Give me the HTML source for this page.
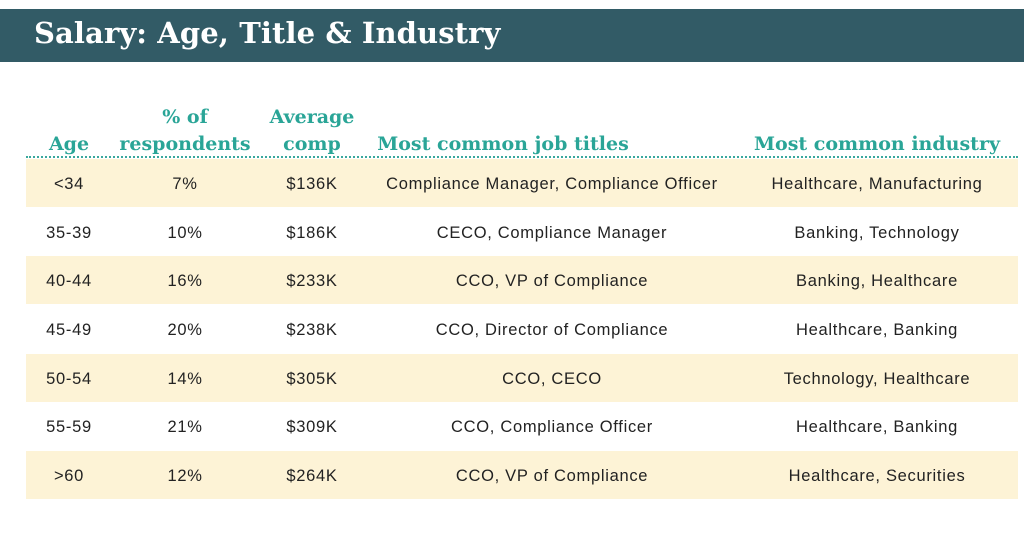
<!DOCTYPE html>
<html><head><style>
body{margin:0;width:1024px;height:536px;background:#fff;position:relative;overflow:hidden;font-family:"Liberation Sans",sans-serif}
.ban{position:absolute;left:0;top:9px;width:1024px;height:53px;background:#325b66}
.ban span{position:absolute;left:34px;top:7px;color:#fff;font-family:"DejaVu Serif","Liberation Serif",serif;font-weight:bold;font-size:29px;letter-spacing:0.1px}
.h{position:absolute;color:#2aa597;font-family:"DejaVu Serif","Liberation Serif",serif;font-weight:bold;font-size:19px;line-height:27px;text-align:center;transform:translateX(-50%);white-space:nowrap}
.dots{position:absolute;left:26px;top:156px;width:992px;border-top:2px dotted #3aa89c}
.row{position:absolute;left:26px;width:992px;height:48px}
.c{position:absolute;transform:translateX(-50%);font-size:16.5px;letter-spacing:0.7px;color:#222;white-space:nowrap;line-height:48px;top:0}
</style></head><body>
<div class="ban"><span>Salary: Age, Title &amp; Industry</span></div>
<div class="h" style="left:69px;top:131px">Age</div>
<div class="h" style="left:185px;top:104px">% of<br>respondents</div>
<div class="h" style="left:312px;top:104px">Average<br>comp</div>
<div class="h" style="left:503px;top:131px">Most common job titles</div>
<div class="h" style="left:877px;top:131px">Most common industry</div>
<div class="dots"></div>
<div class="row" style="top:159px;background:#fdf3d6"></div>
<div class="row" style="top:256px;background:#fdf3d6"></div>
<div class="row" style="top:354px;background:#fdf3d6"></div>
<div class="row" style="top:451px;background:#fdf3d6"></div>
<div style="position:absolute;left:0;top:160px;width:1024px">
<div style="position:relative;height:48.7px"><span class="c" style="left:69px">&lt;34</span><span class="c" style="left:185px">7%</span><span class="c" style="left:312px">$136K</span><span class="c" style="left:552px">Compliance Manager, Compliance Officer</span><span class="c" style="left:877px">Healthcare, Manufacturing</span></div>
<div style="position:relative;height:48.7px"><span class="c" style="left:69px">35-39</span><span class="c" style="left:185px">10%</span><span class="c" style="left:312px">$186K</span><span class="c" style="left:552px">CECO, Compliance Manager</span><span class="c" style="left:877px">Banking, Technology</span></div>
<div style="position:relative;height:48.7px"><span class="c" style="left:69px">40-44</span><span class="c" style="left:185px">16%</span><span class="c" style="left:312px">$233K</span><span class="c" style="left:552px">CCO, VP of Compliance</span><span class="c" style="left:877px">Banking, Healthcare</span></div>
<div style="position:relative;height:48.7px"><span class="c" style="left:69px">45-49</span><span class="c" style="left:185px">20%</span><span class="c" style="left:312px">$238K</span><span class="c" style="left:552px">CCO, Director of Compliance</span><span class="c" style="left:877px">Healthcare, Banking</span></div>
<div style="position:relative;height:48.7px"><span class="c" style="left:69px">50-54</span><span class="c" style="left:185px">14%</span><span class="c" style="left:312px">$305K</span><span class="c" style="left:552px">CCO, CECO</span><span class="c" style="left:877px">Technology, Healthcare</span></div>
<div style="position:relative;height:48.7px"><span class="c" style="left:69px">55-59</span><span class="c" style="left:185px">21%</span><span class="c" style="left:312px">$309K</span><span class="c" style="left:552px">CCO, Compliance Officer</span><span class="c" style="left:877px">Healthcare, Banking</span></div>
<div style="position:relative;height:48.7px"><span class="c" style="left:69px">&gt;60</span><span class="c" style="left:185px">12%</span><span class="c" style="left:312px">$264K</span><span class="c" style="left:552px">CCO, VP of Compliance</span><span class="c" style="left:877px">Healthcare, Securities</span></div>
</div>
</body></html>
